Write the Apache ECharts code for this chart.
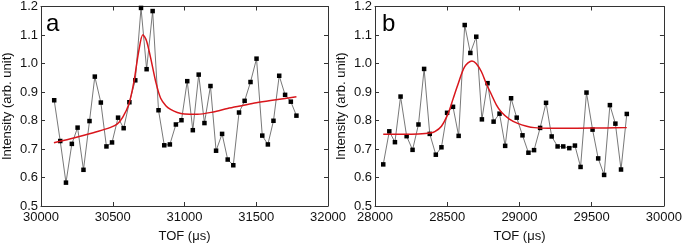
<!DOCTYPE html>
<html>
<head>
<meta charset="utf-8">
<script src="https://cdn.jsdelivr.net/npm/echarts@6/dist/echarts.min.js"></script>
<style>
  html, body { margin: 0; padding: 0; background: #fff; }
  #chart { width: 685px; height: 248px; }
</style>
</head>
<body>
<div id="chart"></div>
<script>
// panel a: measured points
const tofA = [30092, 30134, 30174, 30215, 30255, 30296, 30338, 30375, 30417, 30456, 30495, 30537, 30576, 30616, 30657, 30697, 30736, 30778, 30819, 30859, 30898, 30940, 30979, 31019, 31058, 31099, 31139, 31181, 31220, 31262, 31301, 31340, 31380, 31419, 31460, 31502, 31542, 31581, 31620, 31660, 31701, 31741, 31780];
const intA = [0.871, 0.728, 0.582, 0.718, 0.775, 0.627, 0.798, 0.954, 0.863, 0.709, 0.723, 0.810, 0.773, 0.864, 0.941, 1.195, 0.980, 1.184, 0.836, 0.713, 0.716, 0.786, 0.801, 0.938, 0.766, 0.961, 0.791, 0.921, 0.694, 0.753, 0.663, 0.643, 0.828, 0.869, 0.935, 1.017, 0.747, 0.716, 0.799, 0.957, 0.890, 0.866, 0.817];
// panel a: fit curve
const fitTofA = [30090, 30200, 30300, 30400, 30480, 30530, 30570, 30613, 30648, 30680, 30710, 30735, 30764, 30800, 30833, 30870, 30903, 30950, 31000, 31090, 31200, 31300, 31400, 31500, 31600, 31700, 31780];
const fitA = [0.722, 0.735, 0.748, 0.762, 0.775, 0.787, 0.812, 0.858, 0.937, 1.040, 1.101, 1.080, 1.020, 0.935, 0.879, 0.852, 0.839, 0.828, 0.823, 0.822, 0.830, 0.842, 0.852, 0.862, 0.870, 0.877, 0.883];

// panel b: measured points
const tofB = [28057, 28099, 28138, 28177, 28219, 28260, 28301, 28340, 28379, 28421, 28460, 28499, 28540, 28579, 28621, 28660, 28701, 28740, 28779, 28821, 28862, 28901, 28942, 28981, 29021, 29062, 29101, 29143, 29184, 29223, 29264, 29303, 29345, 29384, 29423, 29464, 29506, 29545, 29586, 29626, 29664, 29703, 29743];
const intB = [0.646, 0.762, 0.724, 0.884, 0.745, 0.697, 0.786, 0.981, 0.753, 0.680, 0.706, 0.827, 0.848, 0.746, 1.135, 1.037, 1.094, 0.804, 0.931, 0.796, 0.824, 0.711, 0.878, 0.810, 0.748, 0.687, 0.696, 0.774, 0.862, 0.744, 0.709, 0.709, 0.703, 0.712, 0.637, 0.898, 0.768, 0.667, 0.609, 0.854, 0.789, 0.628, 0.823];
// panel b: fit curve
const fitTofB = [28057, 28200, 28300, 28380, 28414, 28460, 28506, 28540, 28574, 28621, 28671, 28700, 28736, 28770, 28805, 28840, 28874, 28930, 28988, 29050, 29103, 29200, 29400, 29600, 29743];
const fitB = [0.752, 0.752, 0.753, 0.756, 0.761, 0.780, 0.824, 0.875, 0.926, 0.989, 1.009, 1.000, 0.972, 0.930, 0.892, 0.855, 0.830, 0.805, 0.790, 0.780, 0.775, 0.773, 0.773, 0.774, 0.775];

const panelLabels = ['a', 'b'];
const xRanges = [[30000, 32000], [28000, 30000]];
const yMin = 0.5, yMax = 1.2;

const FONT = 'Liberation Sans';
const zip = (xs, ys) => xs.map((x, i) => [x, ys[i]]);

const grids = [
  { left: 40, top: 6, width: 288, height: 205 },
  { left: 375, top: 6, width: 290, height: 205 },
];

const xAxes = [];
const yAxes = [];
grids.forEach((g, i) => {
  const [xmin, xmax] = xRanges[i];
  // bottom axis with labels
  xAxes.push({
    gridIndex: i, type: 'value', min: xmin, max: xmax, interval: 500,
    name: 'TOF (μs)', nameLocation: 'middle', nameGap: 24,
    nameTextStyle: { fontFamily: FONT, fontSize: 13, color: '#111' },
    axisLine: { lineStyle: { color: '#333', width: 1 } },
    axisTick: { inside: true, length: 4, lineStyle: { color: '#333' } },
    axisLabel: { fontFamily: FONT, fontSize: 13, color: '#111', margin: 5, showMinLabel: true, showMaxLabel: true, formatter: v => String(v) },
    splitLine: { show: false },
  });
  // top mirror axis (ticks only)
  xAxes.push({
    gridIndex: i, type: 'value', min: xmin, max: xmax, interval: 500, position: 'top',
    axisLine: { lineStyle: { color: '#333', width: 1 } },
    axisTick: { inside: true, length: 4, lineStyle: { color: '#333' } },
    axisLabel: { show: false }, splitLine: { show: false },
  });
  yAxes.push({
    gridIndex: i, type: 'value', min: yMin, max: yMax, interval: 0.1,
    name: 'Intensity (arb. unit)', nameLocation: 'middle', nameGap: 27,
    nameTextStyle: { fontFamily: FONT, fontSize: 13, color: '#111' },
    axisLine: { show: true, lineStyle: { color: '#333', width: 1 } },
    axisTick: { show: true, inside: true, length: 4, lineStyle: { color: '#333' } },
    axisLabel: { fontFamily: FONT, fontSize: 13, color: '#111', margin: 3, formatter: v => v.toFixed(1) },
    splitLine: { show: false },
  });
  yAxes.push({
    gridIndex: i, type: 'value', min: yMin, max: yMax, interval: 0.1, position: 'right',
    axisLine: { show: true, lineStyle: { color: '#333', width: 1 } },
    axisTick: { show: true, inside: true, length: 4, lineStyle: { color: '#333' } },
    axisLabel: { show: false }, splitLine: { show: false },
  });
});

const dataSeries = (i, data) => ({
  type: 'line', xAxisIndex: i * 2, yAxisIndex: i * 2, data,
  symbol: 'rect', symbolSize: 4.5, showSymbol: true,
  lineStyle: { color: '#555', width: 0.8 },
  itemStyle: { color: '#000' },
  silent: true, z: 2,
});
const fitSeries = (i, data) => ({
  type: 'line', xAxisIndex: i * 2, yAxisIndex: i * 2, data,
  smooth: 0.3, symbol: 'none',
  lineStyle: { color: '#d9161c', width: 1.5 },
  silent: true, z: 3,
});

const myChart = echarts.init(document.getElementById('chart'));
myChart.setOption({
  animation: false,
  backgroundColor: '#fff',
  grid: grids,
  xAxis: xAxes,
  yAxis: yAxes,
  graphic: [
    { type: 'text', left: 46, top: 12, style: { text: panelLabels[0], font: '24px "Liberation Sans"', fill: '#000' } },
    { type: 'text', left: 382, top: 12, style: { text: panelLabels[1], font: '24px "Liberation Sans"', fill: '#000' } },
  ],
  series: [
    dataSeries(0, zip(tofA, intA)),
    fitSeries(0, zip(fitTofA, fitA)),
    dataSeries(1, zip(tofB, intB)),
    fitSeries(1, zip(fitTofB, fitB)),
  ],
});
</script>
</body>
</html>
